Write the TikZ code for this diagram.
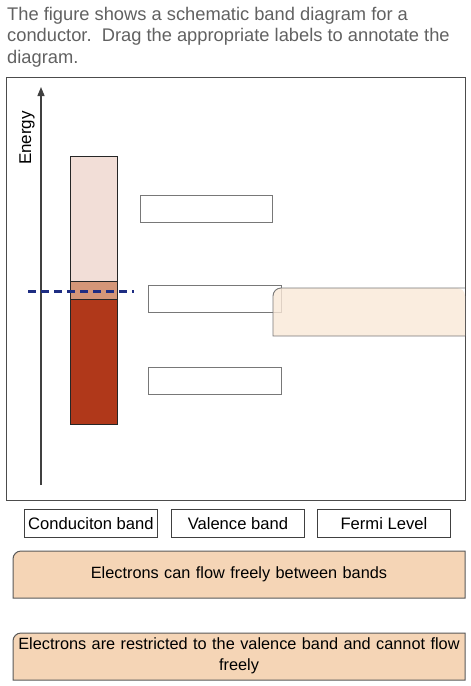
\documentclass[tikz,border=0pt]{standalone}
\usepackage{fontspec}
\setmainfont{Liberation Sans}
\usetikzlibrary{arrows.meta}
\definecolor{bandtop}{RGB}{242,222,215}
\definecolor{bandmid}{RGB}{212,150,120}
\definecolor{bandlow}{RGB}{176,56,26}
\definecolor{fermiblue}{RGB}{30,45,130}
\definecolor{peach}{RGB}{245,213,182}
\definecolor{edgegray}{RGB}{120,120,120}
\tikzset{
slot/.style={
	draw=edgegray, line width=0.9pt, minimum width=#1, minimum height=27pt, inner sep=0pt},
tag/.style={
	draw=black!75, line width=0.8pt, minimum width=133pt, minimum height=28pt,
	inner sep=0pt, font=\fontsize{16.6}{19}\selectfont},
answer/.style={
	fill=peach, draw=black!65, line width=1pt},
answertext/.style={
	align=center, text width=452pt, font=\fontsize{16.3}{21}\selectfont}
}

\begin{document}
\begin{tikzpicture}[x=1pt, y=-1pt]
	\useasboundingbox (0,0) rectangle (471,686);
	\node[anchor=north west, align=left, text=black!62, inner sep=0pt,
		font=\fontsize{18.3}{21.5}\selectfont] (task) at (7,7)
		{The figure shows a schematic band diagram for a\\
		conductor.\ \ Drag the appropriate labels to annotate the\\
		diagram.};
	\draw[black!70, line width=1pt] (6,77) rectangle (465,500);
	% energy axis
	\coordinate (axislow) at (41,485);
	\coordinate (axistop) at (41,87);
	\draw[black!75, line width=1.3pt, -{Triangle[length=9pt, width=7pt]}] (axislow) -- (axistop);
	\node[rotate=90, font=\fontsize{17}{19}\selectfont] (energy) at (27,138) {Energy};
	% bands
	\node[fill=bandtop, minimum width=47pt, minimum height=125pt, inner sep=0pt, anchor=north west] (cband) at (70,156) {};
	\node[fill=bandmid, minimum width=47pt, minimum height=18pt, inner sep=0pt, anchor=north west] (overlap) at (70,281) {};
	\node[fill=bandlow, minimum width=47pt, minimum height=125pt, inner sep=0pt, anchor=north west] (vband) at (70,299) {};
	\draw[black!85, line width=1pt] (cband.north west) rectangle (vband.south east);
	\draw[black!85, line width=0.8pt] (overlap.north west) -- (overlap.north east);
	\draw[black!85, line width=0.8pt] (overlap.south west) -- (overlap.south east);
	% fermi level
	\coordinate (fermileft) at (28,291);
	\coordinate (fermiright) at (134,291);
	\draw[fermiblue, line width=3pt, dash pattern=on 8pt off 5pt] (fermileft) -- (fermiright);
	% drop targets
	\node[slot=132pt, anchor=north west] (slotone) at (140,195) {};
	\node[slot=133pt, anchor=north west] (slottwo) at (148,285) {};
	\node[slot=133pt, anchor=north west] (slotthree) at (148,367) {};
	\fill[peach!55, opacity=0.8, rounded corners=8pt] (273,336) -- (273,288) -- (465,288) [sharp corners] -- (465,336) -- cycle;
	\draw[edgegray, line width=0.9pt] (465,336) -- (273,336) [rounded corners=8pt] -- (273,288) [sharp corners] -- (465,288);
	% labels
	\node[tag, anchor=north west] (cblabel) at (24,509) {Conduciton band};
	\node[tag, anchor=north west] (vblabel) at (171,509) {Valence band};
	\node[tag, anchor=north west] (fllabel) at (317,509) {Fermi Level};
	\draw[answer] (13,598) [rounded corners=8pt] -- (13,551) [sharp corners] -- (465,551) -- (465,598) -- cycle;
	\node[answertext] (freely) at (239,574) {Electrons can flow freely between bands};
	\draw[answer] (13,680) [rounded corners=8pt] -- (13,633) [sharp corners] -- (465,633) -- (465,680) -- cycle;
	\node[answertext] (restricted) at (239,656) {Electrons are restricted to the valence band and cannot flow\\ freely};
\end{tikzpicture}
\end{document}
